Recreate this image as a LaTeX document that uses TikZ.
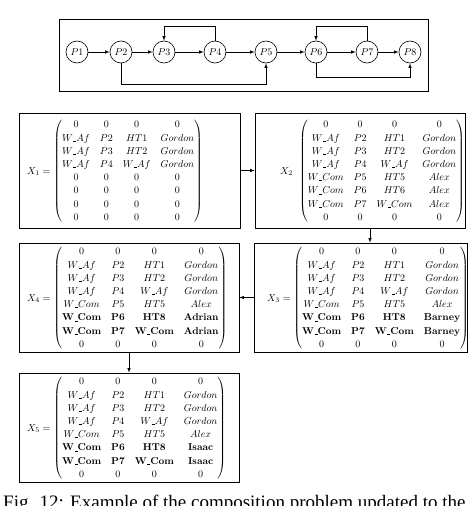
\documentclass[tikz,border=0pt]{standalone}
\usepackage{amsmath}
\usepackage{amsfonts}
\usepackage{xcolor}
\usepackage{fontspec}
\newfontfamily\capfont{Liberation Serif}
\usetikzlibrary{arrows}
\usetikzlibrary{positioning}

\renewcommand{\arraystretch}{1.1}
\newcommand{\us}{\kern.06em\vbox{\hrule width.3em}}

\begin{document}
\begin{tikzpicture}[x=1pt,y=-1pt]
	%\draw[help lines] (0,0) grid (474,506);
	\useasboundingbox (0,0) rectangle (474,506);
	\clip (0,0) rectangle (474,506);
	
	\tikzstyle{pnode} = [circle,draw,semithick,fill=white,minimum size=22pt,inner sep=0pt]
	\tikzstyle{pedge} = [->,>=latex,semithick]
	\tikzstyle{mbox} = [rectangle,draw,semithick,inner sep=0pt]
	
	% process chain
	\node[mbox,minimum width=369pt,minimum height=72pt] (frame) at (243.5,55) {};
	
	\node[pnode] (p1) at (77,52) {$P1$};
	\node[pnode] (p2) at (121,52) {$P2$};
	\node[pnode] (p3) at (164,52) {$P3$};
	\node[pnode] (p4) at (215,52) {$P4$};
	\node[pnode] (p5) at (266,52) {$P5$};
	\node[pnode] (p6) at (316,52) {$P6$};
	\node[pnode] (p7) at (367,52) {$P7$};
	\node[pnode] (p8) at (410,52) {$P8$};
	
	\draw (p1) edge [pedge] (p2);
	\draw (p2) edge [pedge] (p3);
	\draw (p3) edge [pedge] (p4);
	\draw (p4) edge [pedge] (p5);
	\draw (p5) edge [pedge] (p6);
	\draw (p6) edge [pedge] (p7);
	\draw (p7) edge [pedge] (p8);
	\draw[pedge] (p4.north) -- ++(0,-14) -| (p3.north);
	\draw[pedge] (p7.north) -- ++(0,-14) -| (p6.north);
	\draw[pedge] (p2.south) -- ++(0,21) -| (p5.south);
	\draw[pedge] (p6.south) -- ++(0,14) -| (p8.south);
	
	% matrices
	\node[mbox,minimum width=221pt,minimum height=115pt] (x1) at (129.5,170.5) {};
	\node[mbox,minimum width=210pt,minimum height=115pt] (x2) at (360,170.5) {};
	\node[mbox,minimum width=213pt,minimum height=109pt] (x3) at (360.5,297.5) {};
	\node[mbox,minimum width=220pt,minimum height=109pt] (x4) at (129,297.5) {};
	\node[mbox,minimum width=220pt,minimum height=109pt] (x5) at (129,427.5) {};
	
	\node[anchor=west,inner sep=0pt] (m1) at (27,171.5) {$X_1 = \begin{pmatrix}
		0 & 0 & 0 & 0\\
		W\us Af & P2 & HT1 & Gordon\\
		W\us Af & P3 & HT2 & Gordon\\
		W\us Af & P4 & W\us Af & Gordon\\
		0 & 0 & 0 & 0\\
		0 & 0 & 0 & 0\\
		0 & 0 & 0 & 0\\
		0 & 0 & 0 & 0
	\end{pmatrix}$};
	
	\node[anchor=east,inner sep=0pt] (m2) at (465,171.5) {$X_2\;\, \begin{pmatrix}
		0 & 0 & 0 & 0\\
		W\us Af & P2 & HT1 & Gordon\\
		W\us Af & P3 & HT2 & Gordon\\
		W\us Af & P4 & W\us Af & Gordon\\
		W\us Com & P5 & HT5 & Alex\\
		W\us Com & P6 & HT6 & Alex\\
		W\us Com & P7 & W\us Com & Alex\\
		0 & 0 & 0 & 0
	\end{pmatrix}$};
	
	\node[anchor=west,inner sep=0pt] (m3) at (267,298.5) {$X_3 = \begin{pmatrix}
		0 & 0 & 0 & 0\\
		W\us Af & P2 & HT1 & Gordon\\
		W\us Af & P3 & HT2 & Gordon\\
		W\us Af & P4 & W\us Af & Gordon\\
		W\us Com & P5 & HT5 & Alex\\
		\textbf{W\us Com} & \textbf{P6} & \textbf{HT8} & \textbf{Barney}\\
		\textbf{W\us Com} & \textbf{P7} & \textbf{W\us Com} & \textbf{Barney}\\
		0 & 0 & 0 & 0
	\end{pmatrix}$};
	
	\node[anchor=west,inner sep=0pt] (m4) at (27,298.5) {$X_4 = \begin{pmatrix}
		0 & 0 & 0 & 0\\
		W\us Af & P2 & HT1 & Gordon\\
		W\us Af & P3 & HT2 & Gordon\\
		W\us Af & P4 & W\us Af & Gordon\\
		W\us Com & P5 & HT5 & Alex\\
		\textbf{W\us Com} & \textbf{P6} & \textbf{HT8} & \textbf{Adrian}\\
		\textbf{W\us Com} & \textbf{P7} & \textbf{W\us Com} & \textbf{Adrian}\\
		0 & 0 & 0 & 0
	\end{pmatrix}$};
	
	\node[anchor=west,inner sep=0pt] (m5) at (27,428.5) {$X_5 = \begin{pmatrix}
		0 & 0 & 0 & 0\\
		W\us Af & P2 & HT1 & Gordon\\
		W\us Af & P3 & HT2 & Gordon\\
		W\us Af & P4 & W\us Af & Gordon\\
		W\us Com & P5 & HT5 & Alex\\
		\textbf{W\us Com} & \textbf{P6} & \textbf{HT8} & \textbf{Isaac}\\
		\textbf{W\us Com} & \textbf{P7} & \textbf{W\us Com} & \textbf{Isaac}\\
		0 & 0 & 0 & 0
	\end{pmatrix}$};
	
	\draw (x1) edge [pedge] (x2);
	\draw ([xshift=10pt]x2.south) edge [pedge] ([xshift=9.5pt]x3.north);
	\draw (x3) edge [pedge] (x4);
	\draw (x4) edge [pedge] (x5);
	
	\node[anchor=base west,inner sep=0pt,font=\capfont\fontsize{19}{22}\selectfont] (caption) at (3,508.5) {Fig. 12: Example of the composition problem updated to the};

\end{tikzpicture}
\end{document}
